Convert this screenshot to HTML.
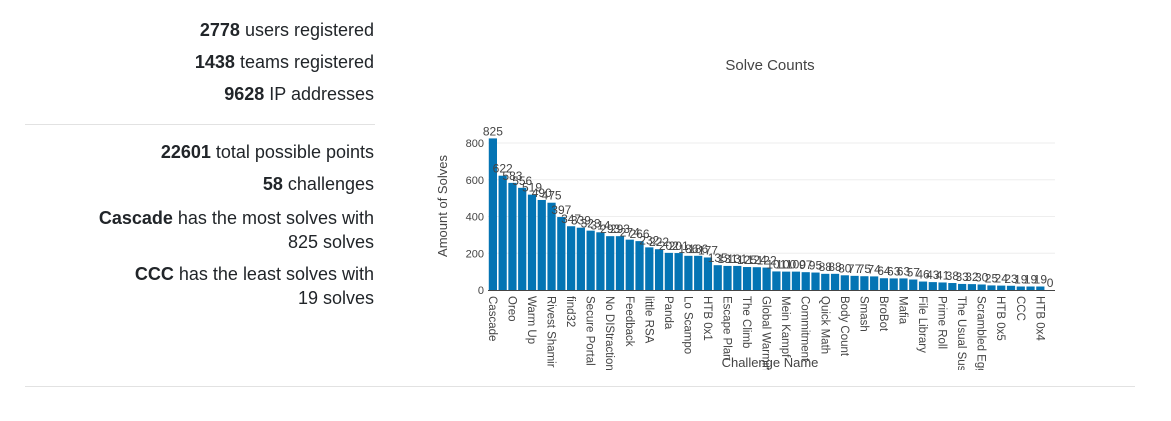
<!DOCTYPE html>
<html><head><meta charset="utf-8"><style>
body{margin:0;width:1171px;height:421px;background:#fff;font-family:"Liberation Sans",sans-serif;position:relative;overflow:hidden}
.st{position:absolute;right:797px;font-size:18px;color:#212529;text-align:right;white-space:nowrap}
.st b{font-weight:bold}
.hr{position:absolute;height:1px;background:#e2e2e2}
</style></head><body>
<div class="st" style="top:20px"><b>2778</b> users registered</div>
<div class="st" style="top:52px"><b>1438</b> teams registered</div>
<div class="st" style="top:84px"><b>9628</b> IP addresses</div>
<div class="hr" style="left:25px;top:124px;width:350px"></div>
<div class="st" style="top:142px"><b>22601</b> total possible points</div>
<div class="st" style="top:174px"><b>58</b> challenges</div>
<div class="st" style="top:206px;line-height:24px"><b>Cascade</b> has the most solves with<br>825 solves</div>
<div class="st" style="top:262px;line-height:24px"><b>CCC</b> has the least solves with<br>19 solves</div>
<div class="hr" style="left:25px;top:386px;width:1110px"></div>
<svg id="chart" width="1171" height="421" style="position:absolute;left:0;top:0">
<defs><clipPath id="lc"><rect x="400" y="292" width="700" height="78"/></clipPath></defs>
<text x="770" y="70" text-anchor="middle" font-size="15" fill="#444">Solve Counts</text>
<text transform="translate(447,206) rotate(-90)" text-anchor="middle" font-size="13" fill="#444">Amount of Solves</text>
<g id="grid"></g><g id="bars"></g><g id="xl" clip-path="url(#lc)"></g>
<text x="770" y="367" text-anchor="middle" font-size="13" fill="#444">Challenge Name</text>
</svg>
<script>
const categories=["Cascade","c2","Oreo","c4","Warm Up","c6","Rivest Shamir","c8","find32","c10","Secure Portal","c12","No DIStraction","c14","Feedback","c16","little RSA","c18","Panda","c20","Lo Scampo","c22","HTB 0x1","c24","Escape Plan","c26","The Climb","c28","Global Warming","c30","Mein Kampf","c32","Commitment","c34","Quick Math","c36","Body Count","c38","Smash","c40","BroBot","c42","Mafia","c44","File Library","c46","Prime Roll","c48","The Usual Suspects","c50","Scrambled Eggs","c52","HTB 0x5","c54","CCC","c56","HTB 0x4","c58"];
const solves=[825,622,583,556,519,490,475,397,347,339,323,314,293,293,274,266,232,222,202,201,186,186,177,135,131,131,125,124,122,101,100,100,97,95,88,88,80,77,75,74,64,63,63,57,46,43,41,38,33,32,30,25,24,23,19,19,19,0];
const yTicks=[0,200,400,600,800];
const NS="http://www.w3.org/2000/svg";
const x0=488,x1=1055,y0=290,yTop=143;
const band=(x1-x0)/solves.length;
const xc=i=>x0+band*(i+0.5);
const ys=v=>y0-(v/800)*(y0-yTop);
function mk(t,a,p){const e=document.createElementNS(NS,t);for(const k in a)e.setAttribute(k,a[k]);p.appendChild(e);return e;}
const grid=document.getElementById('grid'),bars=document.getElementById('bars'),xl=document.getElementById('xl');
yTicks.forEach(v=>{
 if(v>0){const g=mk('line',{x1:x0,x2:x1,y1:ys(v),y2:ys(v),stroke:'#eee'},grid);
 
 }
 const t=mk('text',{x:x0-4,y:ys(v)+4,'text-anchor':'end','font-size':11,fill:'#444'},grid);t.textContent=v;
 
 
});
solves.forEach((v,i)=>{
 const r=mk('rect',{x:xc(i)-band*0.42,width:band*0.84,y:ys(v),height:y0-ys(v),fill:'#0474b4'},bars);
 
 
 const t=mk('text',{x:xc(i),y:ys(v)-3,'text-anchor':'middle','font-size':12,fill:'#444'},bars);t.textContent=v;
 
 
 if(i%2===0){const l=mk('text',{transform:`translate(${xc(i)-4},296) rotate(90)`,'font-size':11.5,fill:'#444'},xl);l.textContent=categories[i];
 
 }
});
const ax=mk('line',{x1:x0,x2:x1,y1:y0+0.5,y2:y0+0.5,stroke:'#444'},bars);


</script>
</body></html>
